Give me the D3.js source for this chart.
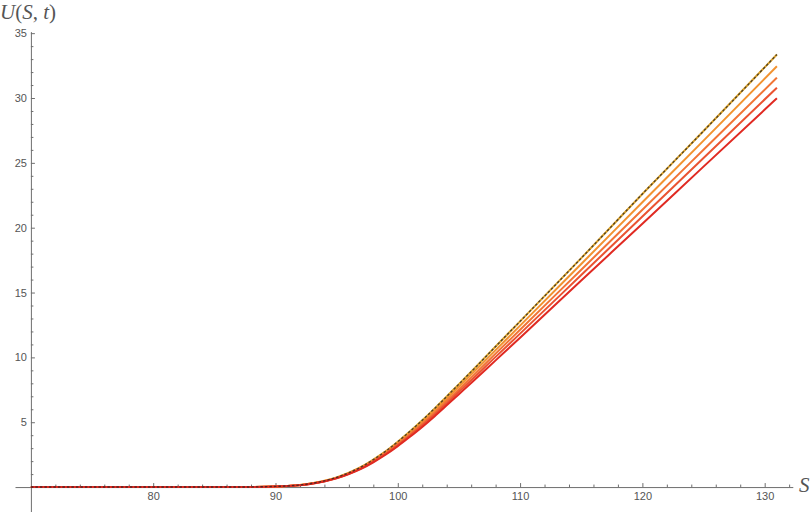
<!DOCTYPE html>
<html>
<head>
<meta charset="utf-8">
<script src="https://cdn.jsdelivr.net/npm/d3@7"></script>
<style>
  html, body { margin: 0; padding: 0; background: #fff; }
  svg { display: block; }
</style>
</head>
<body>
<svg id="chart" width="812" height="512"></svg>
<script>
// ---- data ----
const sValues = [70, 86, 88, 90, 91, 92, 93, 94, 95, 96, 97, 98, 99, 100, 101, 102, 103, 104, 105, 106, 108, 110, 115, 120, 125, 131];
const series1 = [0, 0, 0.01, 0.05, 0.09, 0.16, 0.29, 0.48, 0.75, 1.11, 1.55, 2.12, 2.76, 3.50, 4.30, 5.15, 6.05, 6.98, 7.94, 8.89, 10.84, 12.78, 17.65, 22.6, 27.45, 33.35];
const series2 = [0, 0, 0.01, 0.05, 0.09, 0.16, 0.29, 0.47, 0.73, 1.08, 1.51, 2.06, 2.69, 3.41, 4.19, 5.02, 5.89, 6.81, 7.74, 8.67, 10.56, 12.45, 17.20, 21.96, 26.71, 32.45];
const series3 = [0, 0, 0.01, 0.04, 0.09, 0.15, 0.28, 0.46, 0.71, 1.05, 1.47, 2.01, 2.62, 3.32, 4.08, 4.89, 5.74, 6.63, 7.53, 8.44, 10.29, 12.13, 16.76, 21.38, 26.01, 31.57];
const series4 = [0, 0, 0.01, 0.04, 0.09, 0.15, 0.27, 0.45, 0.69, 1.02, 1.44, 1.96, 2.56, 3.24, 3.98, 4.77, 5.60, 6.47, 7.35, 8.23, 10.04, 11.83, 16.35, 20.86, 25.38, 30.79];
const series5 = [0, 0, 0.01, 0.04, 0.09, 0.14, 0.26, 0.43, 0.67, 1.00, 1.40, 1.91, 2.49, 3.15, 3.88, 4.64, 5.45, 6.30, 7.16, 8.02, 9.77, 11.52, 15.92, 20.31, 24.71, 29.98];
const dashedSeries = [0, 0, 0.01, 0.05, 0.09, 0.16, 0.29, 0.48, 0.75, 1.11, 1.55, 2.12, 2.76, 3.50, 4.30, 5.15, 6.05, 6.98, 7.94, 8.89, 10.84, 12.78, 17.65, 22.6, 27.45, 33.35];
const seriesColors = ["#dfa42a", "#f29231", "#f17536", "#ea5331", "#e02a22"];
const xMajorTicks = [80, 90, 100, 110, 120, 130];
const xMinorTicks = [72, 74, 76, 78, 82, 84, 86, 88, 92, 94, 96, 98, 102, 104, 106, 108, 112, 114, 116, 118, 122, 124, 126, 128, 132];
const yMajorTicks = [5, 10, 15, 20, 25, 30, 35];
const yMinorTicks = [1, 2, 3, 4, 6, 7, 8, 9, 11, 12, 13, 14, 16, 17, 18, 19, 21, 22, 23, 24, 26, 27, 28, 29, 31, 32, 33, 34];

// ---- drawing ----
const svg = d3.select("#chart");
const x = d3.scaleLinear().domain([68.7, 132.3]).range([15, 792.8]);
const y = d3.scaleLinear().domain([-1.93, 35.12]).range([512.1, 31.6]);

const axisColor = "#6e6e6e";
const labelColor = "#555";
const tickFont = "'Liberation Sans', Arial, sans-serif";

// x axis at y = 0
const gx = svg.append("g").attr("transform", `translate(0,${y(0)})`);
gx.call(d3.axisBottom(x).tickValues(xMajorTicks).tickSizeInner(-4).tickSizeOuter(0).tickPadding(5.5).tickFormat(d3.format("d")));
const gxm = svg.append("g").attr("transform", `translate(0,${y(0)})`);
gxm.call(d3.axisBottom(x).tickValues(xMinorTicks).tickSizeInner(-2.5).tickSizeOuter(0).tickFormat(""));
gxm.select(".domain").remove();

// y axis at S = 70
const gy = svg.append("g").attr("transform", `translate(${x(70)},0)`);
gy.call(d3.axisLeft(y).tickValues(yMajorTicks).tickSizeInner(-4).tickSizeOuter(0).tickPadding(4).tickFormat(d3.format("d")));
const gym = svg.append("g").attr("transform", `translate(${x(70)},0)`);
gym.call(d3.axisLeft(y).tickValues(yMinorTicks).tickSizeInner(-2.5).tickSizeOuter(0).tickFormat(""));
gym.select(".domain").remove();

svg.selectAll(".domain").attr("stroke", axisColor).attr("stroke-width", 1);
svg.selectAll(".tick line").attr("stroke", axisColor).attr("stroke-width", 1);
svg.selectAll(".tick text").attr("fill", labelColor).style("font-family", tickFont).style("font-size", "11px");

// curves
const line = d3.line().x(d => x(d.s)).y(d => y(d.u)).curve(d3.curveMonotoneX);
const allSeries = [series1, series2, series3, series4, series5];
allSeries.forEach((vals, i) => {
  const pts = sValues.map((s, k) => ({ s: s, u: vals[k] }));
  svg.append("path").datum(pts)
    .attr("fill", "none")
    .attr("stroke", seriesColors[i])
    .attr("stroke-width", 2)
    .attr("stroke-linejoin", "round")
    .attr("d", line);
});
const dashedPts = sValues.map((s, k) => ({ s: s, u: dashedSeries[k] }));
svg.append("path").datum(dashedPts)
  .attr("fill", "none")
  .attr("stroke", "#222")
  .attr("stroke-opacity", 0.75)
  .attr("stroke-width", 1.4)
  .attr("stroke-dasharray", "2.5,2")
  .attr("d", line);

// axis labels
const serif = "'Liberation Serif', 'Times New Roman', serif";
const ul = svg.append("text").attr("x", 0).attr("y", 19)
  .attr("fill", labelColor).style("font-family", serif).style("font-size", "21px");
ul.append("tspan").style("font-style", "italic").text("U");
ul.append("tspan").text("(");
ul.append("tspan").style("font-style", "italic").text("S");
ul.append("tspan").text(", ");
ul.append("tspan").style("font-style", "italic").text("t");
ul.append("tspan").text(")");

svg.append("text").attr("x", 799).attr("y", 492)
  .attr("fill", labelColor).style("font-family", serif).style("font-size", "21px")
  .style("font-style", "italic").text("S");
</script>
</body>
</html>
